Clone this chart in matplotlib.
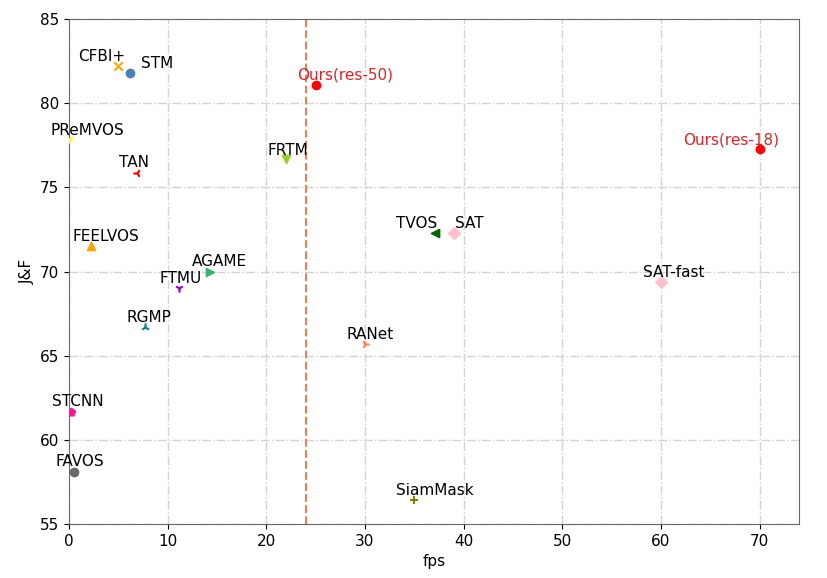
import numpy as np
import matplotlib.pyplot as plt

# methods, speed (fps) and accuracy (J&F)
methods = ['CFBI+', 'STM', 'PReMVOS', 'TAN', 'FRTM', 'Ours(res-50)', 'Ours(res-18)',
           'FEELVOS', 'AGAME', 'FTMU', 'RGMP', 'TVOS', 'SAT', 'SAT-fast', 'RANet',
           'STCNN', 'FAVOS', 'SiamMask']
fps = [5.0, 6.2, 0.03, 6.9, 22.0, 25.0, 70.0,
       2.2, 14.3, 11.1, 7.7, 37.1, 39.0, 60.0, 30.0,
       0.2, 0.5, 35.0]
jf = [82.2, 81.8, 77.9, 75.85, 76.7, 81.1, 77.3,
      71.5, 70.0, 69.0, 66.7, 72.3, 72.3, 69.4, 65.7,
      61.65, 58.1, 56.4]
realtime_fps = 24

# marker styles
markers = ['x', 'o', '1', '3', 'v', 'o', 'o',
           '^', '>', '1', '2', '<', 'D', 'D', '4',
           'p', 'o', '+']
colors = ['orange', 'steelblue', 'yellow', 'red', 'yellowgreen', 'red', 'red',
          'orange', 'mediumseagreen', 'darkviolet', 'teal', 'darkgreen', 'pink', 'pink', 'coral',
          'deeppink', 'dimgray', 'olive']
text_colors = ['black'] * len(methods)
text_colors[5] = text_colors[6] = 'tab:red'

# label offsets in pixels (dx, dy) from each marker
label_dx = [-17, 27, 18, -3, 2, 30, -28, 15, 9, 2, 4, -18, 16, 13, 5, 7, 6, 21]
label_dy = [5, 5, 4, 6, 4, 5, 4, 5, 5, 5, 5, 5, 5, 5, 5, 6, 6, 5]

fig = plt.figure(figsize=(8.28, 5.78), dpi=100)
ax = fig.add_axes([69 / 828, 1 - 524 / 578, 730 / 828, 505 / 578])

for i in range(len(methods)):
    ax.scatter(fps[i], jf[i], marker=markers[i], color=colors[i], s=36, zorder=3)
    ax.annotate(methods[i], (fps[i], jf[i]),
                xytext=(label_dx[i] * 0.72, label_dy[i] * 0.72), textcoords='offset points',
                ha='center', va='baseline', fontsize=11, color=text_colors[i],
                annotation_clip=False)

ax.axvline(realtime_fps, color='#e8825a', linestyle='--', linewidth=1.5, zorder=2)

ax.set_xlim(0, 74)
ax.set_ylim(55, 85)
ax.set_xticks(np.arange(0, 71, 10))
ax.set_yticks(np.arange(55, 86, 5))
ax.grid(True, linestyle='-.', color='lightgray', linewidth=1)
ax.set_axisbelow(True)
ax.tick_params(labelsize=11, colors='black')
for sp in ax.spines.values():
    sp.set_color('dimgray')

ax.set_xlabel('fps', fontsize=11)
ax.set_ylabel('J&F', fontsize=11)

plt.savefig('out.png', dpi=100)
